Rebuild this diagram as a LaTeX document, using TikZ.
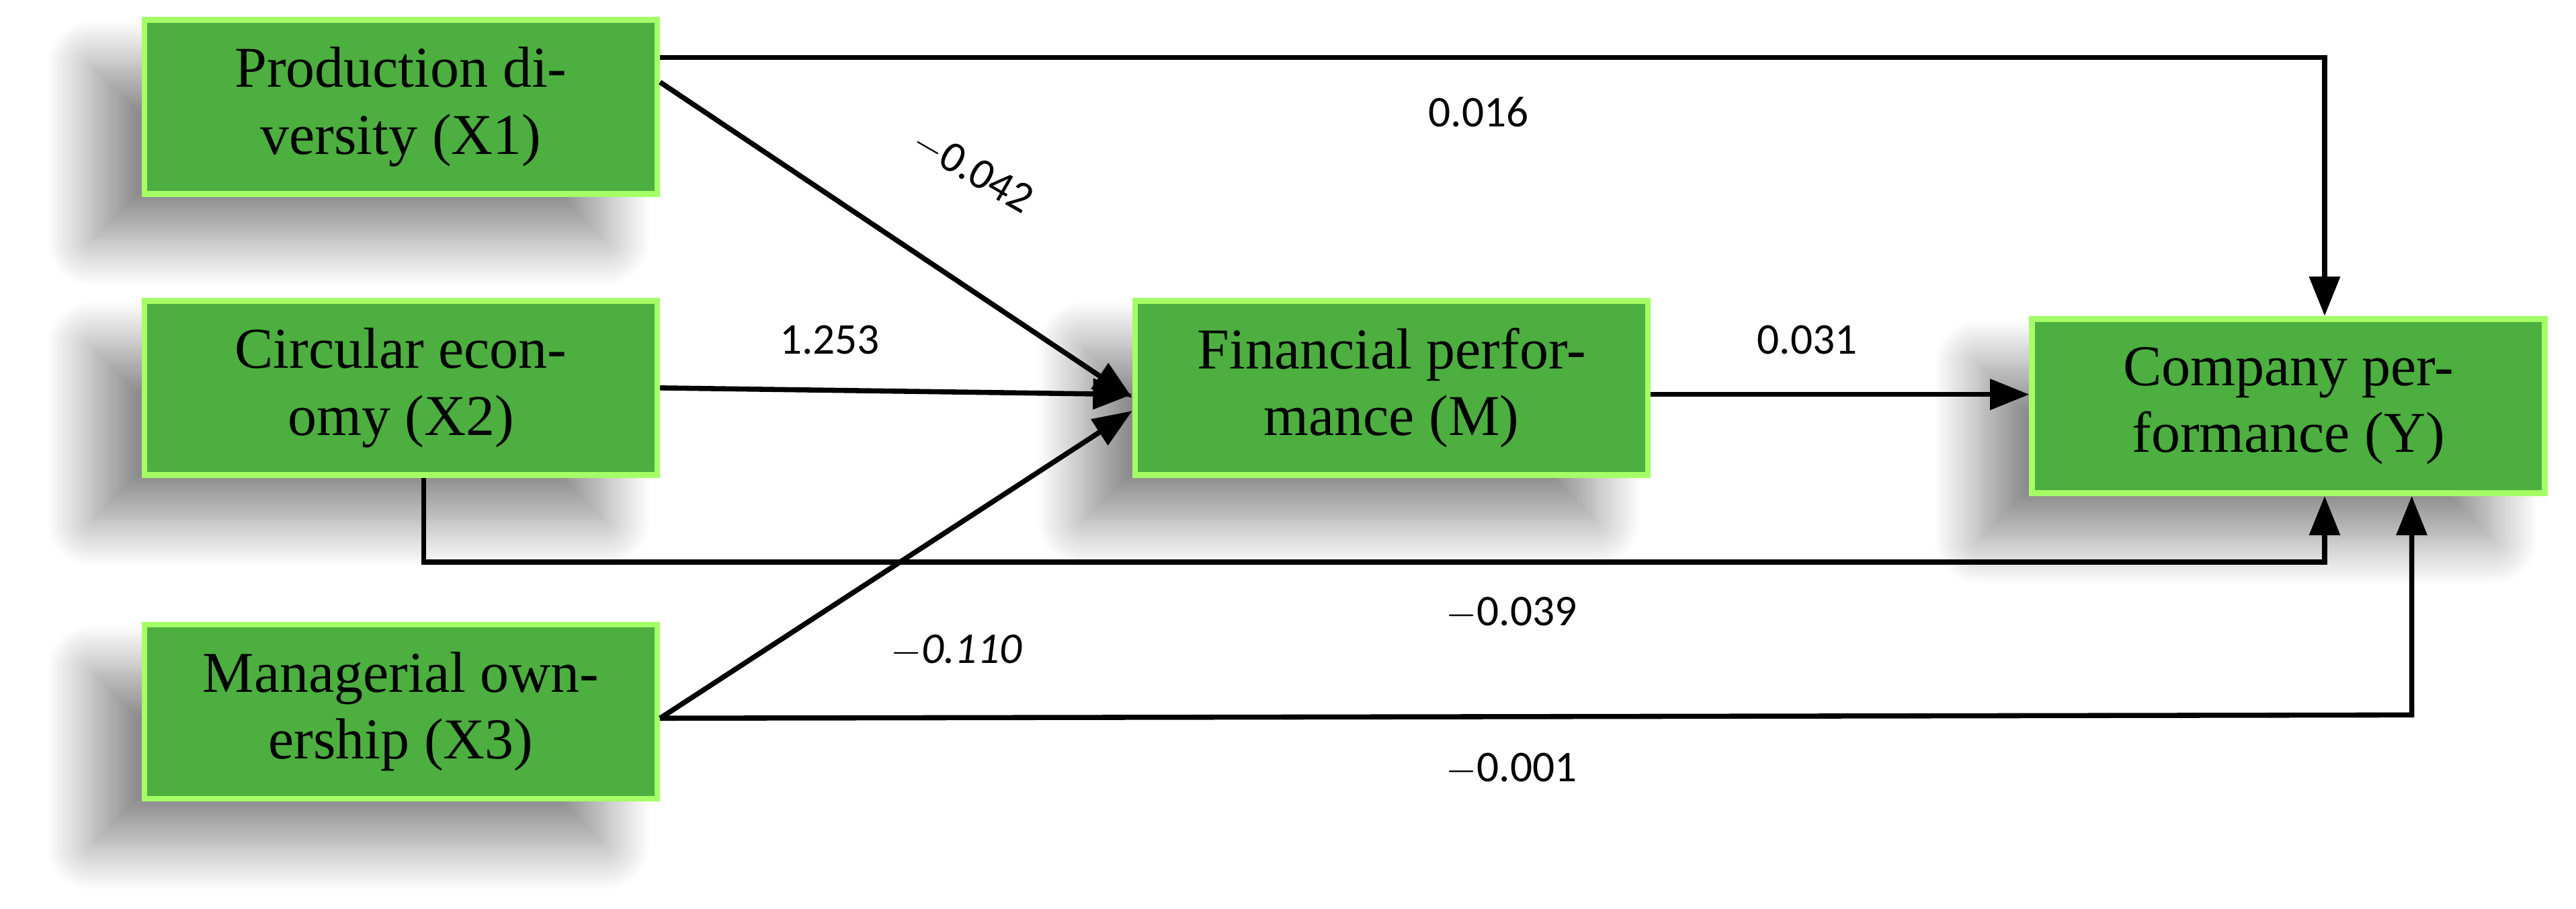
\documentclass[tikz,border=0pt]{standalone}
\usepackage{fontspec}
\setmainfont{Liberation Serif}
\newfontfamily\lblfont{Carlito}
\usetikzlibrary{shadows.blur,arrows.meta}
\begin{document}
\begin{tikzpicture}[x=0.025cm,y=-0.025cm,
  box/.style={draw=green!45!lime!60!white,line width=2.5pt,fill={rgb,255:red,76;green,175;blue,63},
    minimum width=7.8cm,minimum height=2.65cm,align=center,font=\fontsize{25}{29}\selectfont,
    blur shadow={shadow xshift=-0.8cm,shadow yshift=-0.7cm,shadow blur radius=0.7cm,shadow blur steps=20,shadow opacity=45}},
  conn/.style={line width=2.2pt,-{Triangle[length=17pt,width=13pt]}},
  lbl/.style={font=\lblfont\fontsize{19}{22}\selectfont}]
\useasboundingbox (0,0) rectangle (1568,553);
\node[box] (x1) at (244,65) {Production di-\\versity (X1)};
\node[box] (x2) at (244,236) {Circular econ-\\omy (X2)};
\node[box] (x3) at (244,433) {Managerial own-\\ership (X3)};
\node[box] (m) at (847,236) {Financial perfor-\\mance (M)};
\node[box] (y) at (1393,247) {Company per-\\formance (Y)};
\coordinate (a1) at (1415,35);
\coordinate (c1) at (258,342);
\coordinate (c2) at (1415,342);
\coordinate (d1) at (1468,435);
\draw[conn] (x1.north east |- 0,35) -- (a1) -- (y.north -| a1);
\draw[conn] (x1.east |- 0,50) -- (m.west |- 0,242);
\draw[conn] (x2.east) -- (m.west |- 0,240);
\draw[conn] (x3.east |- 0,437) -- (m.west |- 0,250);
\draw[conn] (m.east |- 0,240) -- (y.west |- 0,240);
\draw[conn] (x2.south -| c1) -- (c1) -- (c2) -- (y.south -| c2);
\draw[conn] (x3.east |- 0,437) -- (d1) -- (y.south -| d1);
\node[lbl] (l1) at (900,68) {0.016};
\node[lbl,rotate=-30,inner sep=0pt] (l2) at (592,104) {$-$0.042};
\node[lbl] (l3) at (505,207) {1.253};
\node[lbl] (l4) at (1100,207) {0.031};
\node[lbl] (l5) at (920,373) {$-$0.039};
\node[lbl,font=\lblfont\itshape\fontsize{19}{22}\selectfont] (l6) at (582,396) {$-$0.110};
\node[lbl] (l7) at (920,468) {$-$0.001};
\end{tikzpicture}
\end{document}
